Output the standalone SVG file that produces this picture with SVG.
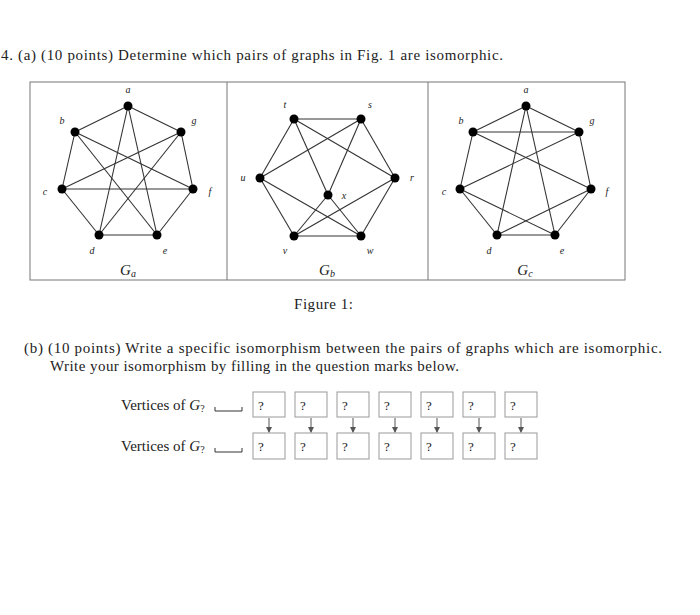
<svg xmlns="http://www.w3.org/2000/svg" width="700" height="615" viewBox="0 0 700 615">
<style>
text{font-family:"Liberation Serif",serif;fill:#222}
.t{font-size:15px}
.l{font-size:10px;font-style:italic;text-anchor:middle}
.g{font-size:15px;font-style:italic;text-anchor:middle}
.e line{stroke:#333;stroke-width:1.1}
.n circle{fill:#000}
.bx{fill:#fff;stroke:#999;stroke-width:1}
.q{font-size:13px}
.ar{stroke:#555;stroke-width:1;marker-end:url(#ah)}
</style>
<defs><marker id="ah" markerWidth="6" markerHeight="6" refX="5" refY="3" orient="auto"><path d="M0,0L6,3L0,6z" fill="#555"/></marker></defs>
<rect width="700" height="615" fill="#fff"/>
<text class="t" x="1" y="60" textLength="502" lengthAdjust="spacing">4.  (a)  (10 points)  Determine which pairs of graphs in Fig. 1 are isomorphic.</text>
<g id="frame" fill="none" stroke="#777" stroke-width="1"><rect x="30" y="82" width="595" height="198"/><line x1="227" y1="82" x2="227" y2="280"/><line x1="428" y1="82" x2="428" y2="280"/></g>
<g id="Ga">
<g class="e"><line x1="128" y1="106" x2="75" y2="132"/><line x1="128" y1="106" x2="181" y2="132"/><line x1="128" y1="106" x2="99" y2="235"/><line x1="128" y1="106" x2="157" y2="235"/><line x1="75" y1="132" x2="62" y2="189"/><line x1="75" y1="132" x2="193" y2="189"/><line x1="75" y1="132" x2="157" y2="235"/><line x1="181" y1="132" x2="62" y2="189"/><line x1="181" y1="132" x2="99" y2="235"/><line x1="181" y1="132" x2="193" y2="189"/><line x1="62" y1="189" x2="193" y2="189"/><line x1="62" y1="189" x2="99" y2="235"/><line x1="99" y1="235" x2="157" y2="235"/><line x1="157" y1="235" x2="193" y2="189"/></g>
<g class="n"><circle cx="128" cy="106" r="4.5"/><circle cx="75" cy="132" r="4.5"/><circle cx="181" cy="132" r="4.5"/><circle cx="62" cy="189" r="4.5"/><circle cx="193" cy="189" r="4.5"/><circle cx="99" cy="235" r="4.5"/><circle cx="157" cy="235" r="4.5"/></g>
<text class="l" x="128" y="93">a</text><text class="l" x="62" y="124">b</text><text class="l" x="194" y="124">g</text><text class="l" x="45" y="195">c</text><text class="l" x="210" y="195">f</text><text class="l" x="92" y="254">d</text><text class="l" x="165" y="254">e</text>
<text class="g" x="128" y="275">G<tspan font-size="10" dy="2">a</tspan></text>
</g>
<g id="Gb">
<g class="e"><line x1="294" y1="119" x2="361" y2="119"/><line x1="294" y1="119" x2="260" y2="178"/><line x1="294" y1="119" x2="395" y2="178"/><line x1="294" y1="119" x2="328" y2="195"/><line x1="361" y1="119" x2="260" y2="178"/><line x1="361" y1="119" x2="395" y2="178"/><line x1="361" y1="119" x2="328" y2="195"/><line x1="260" y1="178" x2="294" y2="236"/><line x1="260" y1="178" x2="361" y2="236"/><line x1="395" y1="178" x2="361" y2="236"/><line x1="395" y1="178" x2="294" y2="236"/><line x1="328" y1="195" x2="294" y2="236"/><line x1="328" y1="195" x2="361" y2="236"/><line x1="294" y1="236" x2="361" y2="236"/></g>
<g class="n"><circle cx="294" cy="119" r="4.5"/><circle cx="361" cy="119" r="4.5"/><circle cx="260" cy="178" r="4.5"/><circle cx="395" cy="178" r="4.5"/><circle cx="328" cy="195" r="4.5"/><circle cx="294" cy="236" r="4.5"/><circle cx="361" cy="236" r="4.5"/></g>
<text class="l" x="285" y="108">t</text><text class="l" x="370" y="108">s</text><text class="l" x="243" y="181">u</text><text class="l" x="412" y="181">r</text><text class="l" x="344" y="199">x</text><text class="l" x="285" y="254">v</text><text class="l" x="370" y="254">w</text>
<text class="g" x="327" y="275">G<tspan font-size="10" dy="2">b</tspan></text>
</g>
<g id="Gc">
<g class="e"><line x1="526" y1="106" x2="473" y2="132"/><line x1="526" y1="106" x2="579" y2="132"/><line x1="526" y1="106" x2="497" y2="235"/><line x1="526" y1="106" x2="555" y2="235"/><line x1="473" y1="132" x2="579" y2="132"/><line x1="473" y1="132" x2="460" y2="189"/><line x1="473" y1="132" x2="591" y2="189"/><line x1="579" y1="132" x2="460" y2="189"/><line x1="579" y1="132" x2="591" y2="189"/><line x1="460" y1="189" x2="497" y2="235"/><line x1="460" y1="189" x2="555" y2="235"/><line x1="497" y1="235" x2="555" y2="235"/><line x1="497" y1="235" x2="591" y2="189"/><line x1="555" y1="235" x2="591" y2="189"/></g>
<g class="n"><circle cx="526" cy="106" r="4.5"/><circle cx="473" cy="132" r="4.5"/><circle cx="579" cy="132" r="4.5"/><circle cx="460" cy="189" r="4.5"/><circle cx="591" cy="189" r="4.5"/><circle cx="497" cy="235" r="4.5"/><circle cx="555" cy="235" r="4.5"/></g>
<text class="l" x="526" y="93">a</text><text class="l" x="461" y="124">b</text><text class="l" x="592" y="124">g</text><text class="l" x="444" y="195">c</text><text class="l" x="607" y="195">f</text><text class="l" x="489" y="254">d</text><text class="l" x="562" y="254">e</text>
<text class="g" x="525" y="275">G<tspan font-size="10" dy="2">c</tspan></text>
</g>
<text class="t" x="294" y="309" textLength="59" lengthAdjust="spacing">Figure 1:</text>
<text class="t" x="24" y="353" textLength="638" lengthAdjust="spacing">(b)  (10 points)  Write a specific isomorphism between the pairs of graphs which are isomorphic.</text>
<text class="t" x="50" y="371" textLength="409" lengthAdjust="spacing">Write your isomorphism by filling in the question marks below.</text>
<g id="rows">
<text class="t" x="121" y="410">Vertices of <tspan font-style="italic">G</tspan><tspan font-size="10" dy="2">?</tspan></text>
<text class="t" x="121" y="451">Vertices of <tspan font-style="italic">G</tspan><tspan font-size="10" dy="2">?</tspan></text>
<path d="M215,407V411H242V407M215,448V452H242V448" fill="none" stroke="#333" stroke-width="1"/>
<g id="boxes">
<rect class="bx" x="253" y="392" width="32" height="25"/><rect class="bx" x="295" y="392" width="32" height="25"/><rect class="bx" x="337" y="392" width="32" height="25"/><rect class="bx" x="379" y="392" width="32" height="25"/><rect class="bx" x="421" y="392" width="32" height="25"/><rect class="bx" x="463" y="392" width="32" height="25"/><rect class="bx" x="505" y="392" width="32" height="25"/>
<rect class="bx" x="253" y="433" width="32" height="26"/><rect class="bx" x="295" y="433" width="32" height="26"/><rect class="bx" x="337" y="433" width="32" height="26"/><rect class="bx" x="379" y="433" width="32" height="26"/><rect class="bx" x="421" y="433" width="32" height="26"/><rect class="bx" x="463" y="433" width="32" height="26"/><rect class="bx" x="505" y="433" width="32" height="26"/>
</g>
<g id="q" class="q">
<text x="258" y="410">?</text><text x="300" y="410">?</text><text x="342" y="410">?</text><text x="384" y="410">?</text><text x="426" y="410">?</text><text x="468" y="410">?</text><text x="510" y="410">?</text>
<text x="258" y="451">?</text><text x="300" y="451">?</text><text x="342" y="451">?</text><text x="384" y="451">?</text><text x="426" y="451">?</text><text x="468" y="451">?</text><text x="510" y="451">?</text>
</g>
<g id="arrows">
<line class="ar" x1="269" y1="418" x2="269" y2="432"/><line class="ar" x1="311" y1="418" x2="311" y2="432"/><line class="ar" x1="353" y1="418" x2="353" y2="432"/><line class="ar" x1="395" y1="418" x2="395" y2="432"/><line class="ar" x1="437" y1="418" x2="437" y2="432"/><line class="ar" x1="479" y1="418" x2="479" y2="432"/><line class="ar" x1="521" y1="418" x2="521" y2="432"/>
</g>
</g>
</svg>
